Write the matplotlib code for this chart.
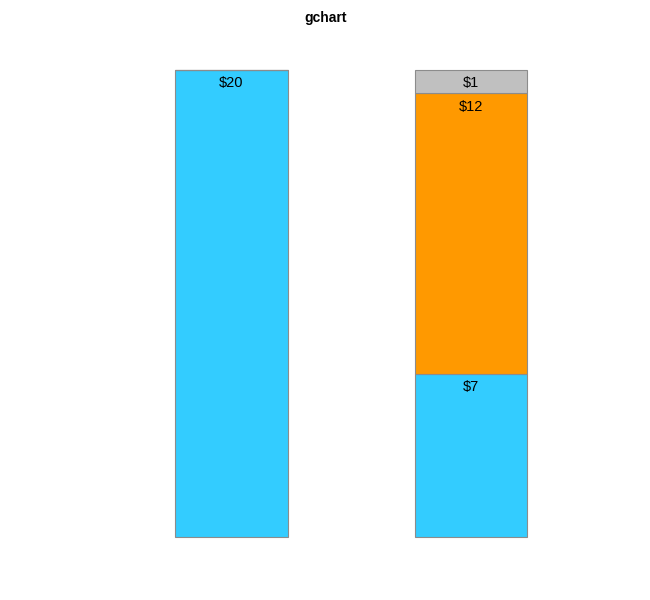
import matplotlib
matplotlib.use("Agg")
import matplotlib.pyplot as plt
import numpy as np

plt.rcParams["font.family"] = ["Liberation Sans", "DejaVu Sans"]

categories = ["A", "B"]
segment_names = ["blue", "orange", "gray"]
segment_values = {
    "blue": [20, 7],
    "orange": [0, 12],
    "gray": [0, 1],
}
segment_colors = {"blue": "#33CCFF", "orange": "#FF9900", "gray": "#C0C0C0"}

fig = plt.figure(figsize=(6.5, 6.0), dpi=100)
ax = fig.add_axes([0.1719, 0.105, 0.7369, 0.7783])

x = np.arange(len(categories))
bottom = np.zeros(len(categories))
for name in segment_names:
    vals = np.array(segment_values[name], dtype=float)
    ax.bar(x, vals, width=0.47, bottom=bottom, color=segment_colors[name],
           edgecolor="#8c8c8c", linewidth=0.8, clip_on=False)
    for xi, b, v in zip(x, bottom, vals):
        if v > 0:
            ax.annotate(f"${v:.0f}", (xi, b + v), xytext=(0, -4.5), textcoords="offset points",
                        ha="center", va="top", fontsize=10.5, color="black")
    bottom += vals

ax.set_xlim(-0.5, 1.5)
ax.set_ylim(0, 20)
ax.axis("off")

fig.text(326 / 650, 1 - 18 / 600, "gchart", ha="center", va="center",
         fontsize=10, fontweight="bold")

fig.savefig("out.png", dpi=100, facecolor="white")
